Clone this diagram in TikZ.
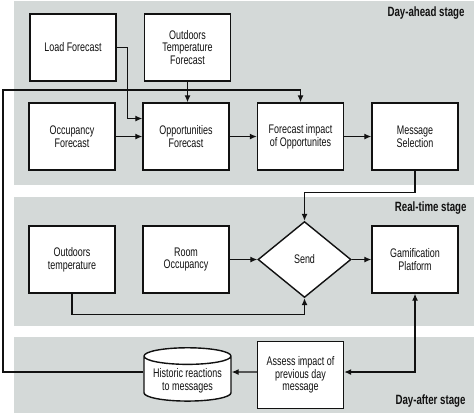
\documentclass[tikz,border=0pt]{standalone}
\usepackage{fontspec}
\setmainfont{Liberation Sans}[FakeStretch=0.72]
\usepackage{tikz}
\usetikzlibrary{arrows.meta, calc, positioning, shapes.geometric}
\definecolor{Panel}{HTML}{D4D9D8}
\definecolor{Ink}{HTML}{111111}
\tikzset{
  stage/.style={fill=Panel, draw=none},
  stagelabel/.style={color=Ink, font=\fontsize{13.5}{14}\selectfont\bfseries, anchor=east},
  block/.style={draw=Ink, fill=white, line width=1.4bp, minimum width=86bp, minimum height=67bp,
    align=center, text=Ink, font=\fontsize{12.5}{12.7}\selectfont, inner sep=2bp},
  decide/.style={diamond, draw=Ink, fill=white, line width=1.4bp, minimum width=93bp, minimum height=76bp,
    inner sep=0pt, text=Ink, font=\fontsize{12.5}{12.7}\selectfont},
  store/.style={cylinder, shape border rotate=90, aspect=0.22, draw=Ink, fill=white, line width=1.4bp,
    minimum width=87bp, minimum height=51bp, align=center, text=Ink, font=\fontsize{12.5}{12.7}\selectfont},
  conn/.style={-{Latex[length=7bp,width=6bp]}, line width=1.2bp, color=Ink},
  twoway/.style={{Latex[length=7bp,width=6bp]}-{Latex[length=7bp,width=6bp]}, line width=1.2bp, color=Ink},
}
\begin{document}
\begin{tikzpicture}[x=1bp, y=-1bp]
  \useasboundingbox (0,0) rectangle (474,413);
  \fill[white] (0,0) rectangle (474,413);

  % Stage panels
  \fill[stage] (14,1) rectangle (474,185);
  \fill[stage] (14,197) rectangle (474,326);
  \fill[stage] (14,337) rectangle (474,413);
  \node[stagelabel] (lahead) at (468,13) {Day-ahead stage};
  \node[stagelabel] (lreal) at (470,208) {Real-time stage};
  \node[stagelabel] (lafter) at (469,401) {Day-after stage};

  % Day-ahead stage
  \node[block] (loadfc) at (73,47.5) {Load Forecast};
  \node[block] (outfc) at (187.5,47.5) {Outdoors\\Temperature\\Forecast};
  \node[block] (occfc) at (72,136.5) {Occupancy\\Forecast};
  \node[block] (oppfc) at (186,136.5) {Opportunities\\Forecast};
  \node[block] (impact) at (300.5,136.5) {Forecast impact\\of Opportunites};
  \node[block] (msgsel) at (415,136.5) {Message\\Selection};

  % Real-time stage
  \node[block] (outtemp) at (72,259.5) {Outdoors\\temperature};
  \node[block] (roomocc) at (186,259.5) {Room\\Occupancy};
  \node[decide] (send) at (304.5,259.5) {Send};
  \node[block] (gamif) at (415,259.5) {Gamification\\Platform};

  % Day-after stage
  \node[block] (assess) at (300.5,375) {Assess impact of\\previous day\\message};
  \node[store] (historic) at (187.5,380.5) {Historic reactions\\to messages};
  \coordinate (fback) at (3,90);

  % Connectors
  \draw[conn] (loadfc.east) -| ([xshift=-15bp,yshift=18bp]oppfc.west) -- ([yshift=18bp]oppfc.west);
  \draw[conn] (occfc) -- (oppfc);
  \draw[conn] (outfc.south) -- (outfc.south |- oppfc.north);
  \draw[conn] (oppfc) -- (impact);
  \draw[conn] (impact) -- (msgsel);
  \draw[conn] (msgsel.south) -- ++(0,22) -| (send.north);
  \draw[conn] (roomocc) -- (send);
  \draw[conn] (outtemp.south) -- ++(0,21) -| (send.south);
  \draw[conn] (send) -- (gamif);
  \draw[twoway] ([yshift=3bp]assess.east) -| (gamif.south);
  \draw[conn] ([yshift=3bp]assess.west) -- ([yshift=8.5bp]historic.east);
  \draw[conn] ([yshift=8.5bp]historic.west) -| (fback) -| (impact.north);
\end{tikzpicture}
\end{document}
